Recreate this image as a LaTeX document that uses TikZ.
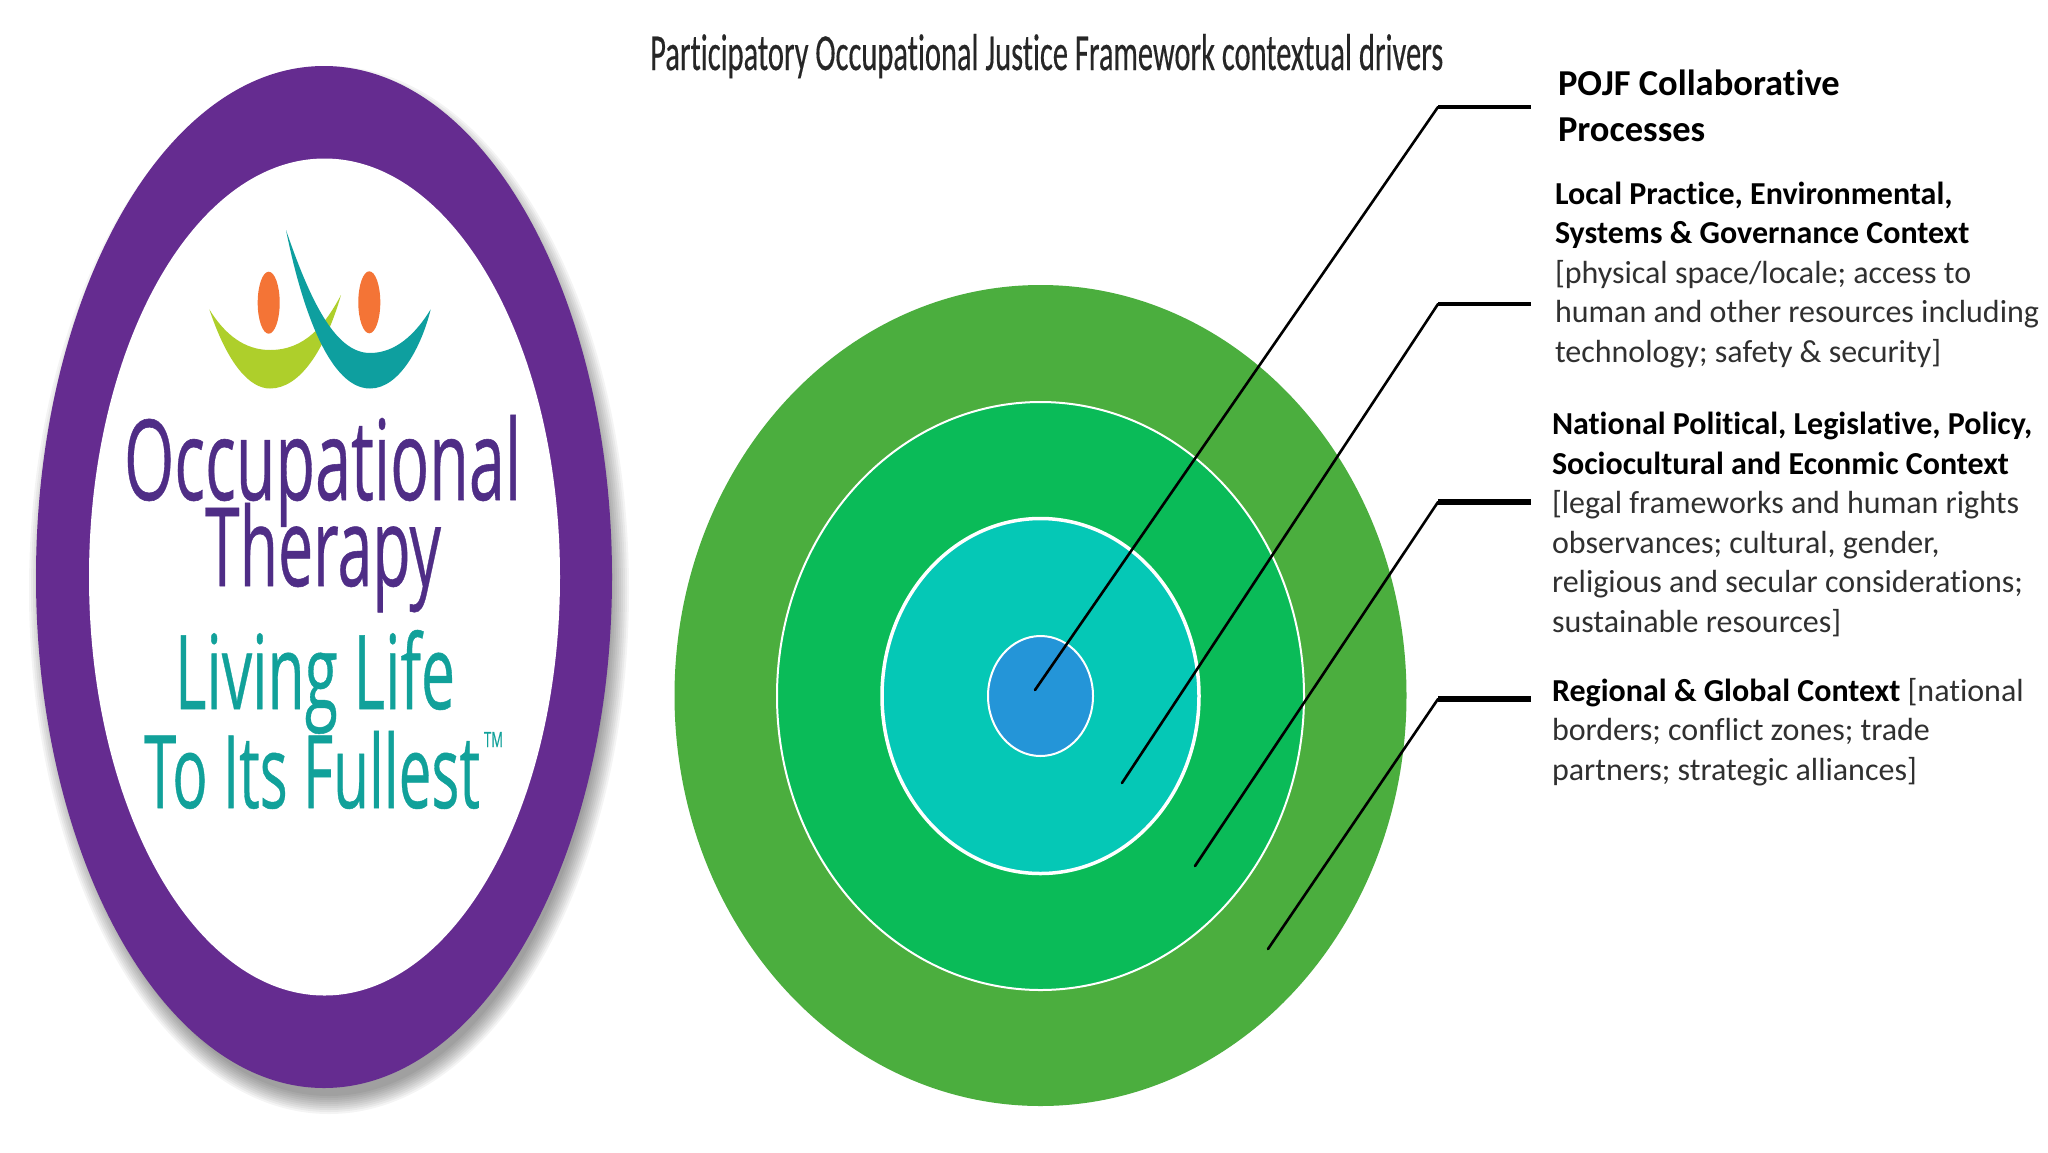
\documentclass[tikz,border=0pt]{standalone}
\usepackage{graphicx}
\usepackage{fontspec}
\setmainfont[Ligatures=NoCommon]{Carlito}
\newfontfamily\logofont[FakeBold=0.5]{Open Sans}
\newfontfamily\titlefont[Ligatures=NoCommon,FakeBold=0.4]{Carlito}
\usetikzlibrary{shapes.geometric}
\definecolor{ringpurple}{HTML}{652C90}
\definecolor{otpurple}{HTML}{4F2D86}
\definecolor{otteal}{HTML}{11A19A}
\definecolor{swteal}{HTML}{0E9F9F}
\definecolor{swlime}{HTML}{AECF2B}
\definecolor{dotorange}{HTML}{F47436}
\definecolor{greenA}{HTML}{4BAE3E}
\definecolor{greenB}{HTML}{0ABB58}
\definecolor{tealC}{HTML}{05C8B6}
\definecolor{blueD}{HTML}{2495D8}
\definecolor{bodygray}{HTML}{303030}
\newcommand{\boldpart}[1]{{\bfseries\color{black}#1}}
\newcommand{\logotext}[3]{\resizebox{#1pt}{#2pt}{\logofont #3}}
\tikzset{
  x=1pt,y=-1pt,
  disc/.style={ellipse,inner sep=0pt,outer sep=0pt},
  lbl/.style={anchor=base west,inner sep=0pt,outer sep=0pt,align=left,text=bodygray,font=\fontsize{32}{39.5}\selectfont},
  diagline/.style={line width=2.6pt,black,line cap=round},
  armline/.style={line width=#1,black},
  logotxt/.style={anchor=base west,inner sep=0pt,outer sep=0pt},
}
\begin{document}
\begin{tikzpicture}
\useasboundingbox (0,0) rectangle (2048,1152);
\fill[white] (0,0) rectangle (2048,1152);
% logo shadow
\foreach \d in {12,10,8,6,4,2,0,-2,-4,-6}{
  \fill[black,opacity=0.045] (329,590) ellipse [x radius=288pt+\d pt,y radius=512pt+\d pt];
}
\node[disc,fill=ringpurple,minimum width=576pt,minimum height=1022pt] (ring) at (324,577) {};
\node[disc,fill=white,minimum width=471pt,minimum height=837pt] (face) at (324.5,577) {};
% swooshes
\fill[swlime] (209.3,309.3) .. controls (228,365) and (250,388.5) .. (270,388.5) .. controls (300,388.5) and (325,350) .. (341,295) .. controls (325,325) and (305,350) .. (270,350) .. controls (245,350) and (225,335) .. cycle;
\fill[swteal] (286,230) .. controls (298,290) and (325,388.5) .. (370,388.5) .. controls (400,388.5) and (422,345) .. (430.7,309.3) .. controls (415,335) and (395,353) .. (370,353) .. controls (335,353) and (310,300) .. cycle;
\node[disc,fill=dotorange,minimum width=22pt,minimum height=62pt] (dotL) at (268.7,302.7) {};
\node[disc,fill=dotorange,minimum width=22pt,minimum height=62pt] (dotR) at (369.3,302.3) {};
% logo text
\node[logotxt,text=otpurple] (occ) at (124,500) {\logotext{397}{85}{Occupational}};
\node[logotxt,text=otpurple] (ther) at (205,586) {\logotext{236}{83}{Therapy}};
\node[logotxt,text=otteal] (liv) at (175,709) {\logotext{280}{79}{Living Life}};
\node[logotxt,text=otteal] (full) at (144,808) {\logotext{336}{77}{To Its Fullest}};
\node[logotxt,text=otteal] (tm) at (484,747) {\logotext{19}{15}{TM}};
% target
\node[disc,fill=greenA,minimum width=732pt,minimum height=821pt] (rA) at (1040.5,695.5) {};
\node[disc,fill=greenB,draw=white,line width=2pt,minimum width=527pt,minimum height=588pt] (rB) at (1040.5,696) {};
\node[disc,fill=tealC,draw=white,line width=3.5pt,minimum width=317pt,minimum height=355pt] (rC) at (1040.5,696) {};
\node[disc,fill=blueD,draw=white,line width=2pt,minimum width=105pt,minimum height=120pt] (rD) at (1040.5,696) {};
% title
\node[anchor=base west,inner sep=0pt,text=black!85] (title) at (650,70) {\resizebox{793pt}{36pt}{\titlefont Participatory Occupational Justice Framework contextual drivers}};
% labels
\node[lbl,font=\fontsize{36.5}{45.7}\selectfont\bfseries,text=black] (l1) at (1558,141) {POJF Collaborative\\Processes};
\node[lbl] (l2) at (1555,362) {\boldpart{Local Practice, Environmental,}\\\boldpart{Systems \& Governance Context}\\{}[physical space/locale; access to\\human and other resources including\\technology; safety \& security]};
\node[lbl] (l3) at (1552,632) {\boldpart{National Political, Legislative, Policy,}\\\boldpart{Sociocultural and Econmic Context}\\{}[legal frameworks and human rights\\observances; cultural, gender,\\religious and secular considerations;\\sustainable resources]};
\node[lbl] (l4) at (1552,780) {\boldpart{Regional \& Global Context} [national\\borders; conflict zones; trade\\partners; strategic alliances]};
% connectors
\coordinate (tA) at (1035,690); \coordinate (eA) at (1438,107); \coordinate (aA) at (1531,107);
\coordinate (tB) at (1122,783); \coordinate (eB) at (1438,304); \coordinate (aB) at (1531,304);
\coordinate (tC) at (1195,866); \coordinate (eC) at (1438,502); \coordinate (aC) at (1531,502);
\coordinate (tD) at (1268,949); \coordinate (eD) at (1438,699); \coordinate (aD) at (1531,699);
\draw[diagline] (tA) -- (eA); \draw[armline=3.6pt] (eA) -- (aA);
\draw[diagline] (tB) -- (eB); \draw[armline=4pt] (eB) -- (aB);
\draw[diagline] (tC) -- (eC); \draw[armline=5.5pt] (eC) -- (aC);
\draw[diagline] (tD) -- (eD); \draw[armline=5.5pt] (eD) -- (aD);
\end{tikzpicture}
\end{document}
